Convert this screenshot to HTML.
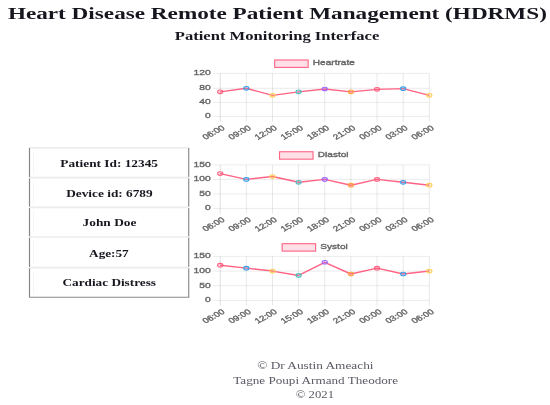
<!DOCTYPE html>
<html><head><meta charset="utf-8"><title>HDRMS</title>
<style>html,body{margin:0;padding:0;background:#fff;overflow:hidden}svg{display:block}</style></head>
<body><svg width="550" height="405" viewBox="0 0 550 405">
<text x="7.9" y="19.4" font-family="Liberation Serif, Times New Roman, serif" font-size="17.5" font-weight="bold" fill="#16161f" textLength="539" lengthAdjust="spacingAndGlyphs" text-anchor="start">Heart Disease Remote Patient Management (HDRMS)</text>
<text x="174.8" y="40.1" font-family="Liberation Serif, Times New Roman, serif" font-size="13.5" font-weight="bold" fill="#16161f" textLength="204.5" lengthAdjust="spacingAndGlyphs" text-anchor="start">Patient Monitoring Interface</text>
<line x1="29.5" y1="147.9" x2="188.7" y2="147.9" stroke="#e6e6e6" stroke-width="1.3"/>
<line x1="29.5" y1="147.9" x2="29.5" y2="177.1" stroke="#858585" stroke-width="1.15"/>
<line x1="188.7" y1="147.9" x2="188.7" y2="177.1" stroke="#8e8e8e" stroke-width="1.2"/>
<line x1="33.5" y1="150.9" x2="33.5" y2="174.1" stroke="#f3f3f3" stroke-width="0.8"/>
<line x1="29.5" y1="178.29999999999998" x2="29.5" y2="206.70000000000002" stroke="#858585" stroke-width="1.15"/>
<line x1="188.7" y1="178.29999999999998" x2="188.7" y2="206.70000000000002" stroke="#8e8e8e" stroke-width="1.2"/>
<line x1="33.5" y1="181.29999999999998" x2="33.5" y2="203.70000000000002" stroke="#f3f3f3" stroke-width="0.8"/>
<line x1="29.5" y1="207.9" x2="29.5" y2="236.4" stroke="#858585" stroke-width="1.15"/>
<line x1="188.7" y1="207.9" x2="188.7" y2="236.4" stroke="#8e8e8e" stroke-width="1.2"/>
<line x1="33.5" y1="210.9" x2="33.5" y2="233.4" stroke="#f3f3f3" stroke-width="0.8"/>
<line x1="29.5" y1="237.6" x2="29.5" y2="267.0" stroke="#858585" stroke-width="1.15"/>
<line x1="188.7" y1="237.6" x2="188.7" y2="267.0" stroke="#8e8e8e" stroke-width="1.2"/>
<line x1="33.5" y1="240.6" x2="33.5" y2="264.0" stroke="#f3f3f3" stroke-width="0.8"/>
<line x1="29.5" y1="268.20000000000005" x2="29.5" y2="297.2" stroke="#858585" stroke-width="1.15"/>
<line x1="188.7" y1="268.20000000000005" x2="188.7" y2="297.2" stroke="#8e8e8e" stroke-width="1.2"/>
<line x1="33.5" y1="271.20000000000005" x2="33.5" y2="294.2" stroke="#f3f3f3" stroke-width="0.8"/>
<line x1="29.0" y1="297.2" x2="189.29999999999998" y2="297.2" stroke="#8a8a8a" stroke-width="1.1"/>
<line x1="29.9" y1="177.7" x2="188.29999999999998" y2="177.7" stroke="#ececec" stroke-width="1.7"/>
<line x1="29.9" y1="207.3" x2="188.29999999999998" y2="207.3" stroke="#ececec" stroke-width="1.7"/>
<line x1="29.9" y1="237.0" x2="188.29999999999998" y2="237.0" stroke="#ececec" stroke-width="1.7"/>
<line x1="29.9" y1="267.6" x2="188.29999999999998" y2="267.6" stroke="#ececec" stroke-width="1.7"/>
<text x="60.3" y="167.0" font-family="Liberation Serif, Times New Roman, serif" font-size="11.4" font-weight="bold" fill="#16161f" textLength="97.7" lengthAdjust="spacingAndGlyphs" text-anchor="start">Patient Id: 12345</text>
<text x="66.2" y="196.5" font-family="Liberation Serif, Times New Roman, serif" font-size="11.4" font-weight="bold" fill="#16161f" textLength="86.5" lengthAdjust="spacingAndGlyphs" text-anchor="start">Device id: 6789</text>
<text x="82.60000000000001" y="226.4" font-family="Liberation Serif, Times New Roman, serif" font-size="11.4" font-weight="bold" fill="#16161f" textLength="53.8" lengthAdjust="spacingAndGlyphs" text-anchor="start">John Doe</text>
<text x="89.10000000000001" y="256.7" font-family="Liberation Serif, Times New Roman, serif" font-size="11.4" font-weight="bold" fill="#16161f" textLength="39.6" lengthAdjust="spacingAndGlyphs" text-anchor="start">Age:57</text>
<text x="62.5" y="285.7" font-family="Liberation Serif, Times New Roman, serif" font-size="11.4" font-weight="bold" fill="#16161f" textLength="93.5" lengthAdjust="spacingAndGlyphs" text-anchor="start">Cardiac Distress</text>
<line x1="213" y1="116.40" x2="429.32" y2="116.40" stroke="#000" stroke-opacity="0.09" stroke-width="0.9"/>
<text transform="translate(210.8 118.20) scale(0.86 0.64)" text-anchor="end" font-family="Liberation Sans, Arial, sans-serif" font-size="12" fill="#666" stroke="#666" stroke-width="0.55">0</text>
<line x1="213" y1="102.40" x2="429.32" y2="102.40" stroke="#000" stroke-opacity="0.09" stroke-width="0.9"/>
<text transform="translate(210.8 104.20) scale(0.86 0.64)" text-anchor="end" font-family="Liberation Sans, Arial, sans-serif" font-size="12" fill="#666" stroke="#666" stroke-width="0.55">40</text>
<line x1="213" y1="88.30" x2="429.32" y2="88.30" stroke="#000" stroke-opacity="0.09" stroke-width="0.9"/>
<text transform="translate(210.8 90.10) scale(0.86 0.64)" text-anchor="end" font-family="Liberation Sans, Arial, sans-serif" font-size="12" fill="#666" stroke="#666" stroke-width="0.55">80</text>
<line x1="213" y1="73.40" x2="429.32" y2="73.40" stroke="#000" stroke-opacity="0.09" stroke-width="0.9"/>
<text transform="translate(210.8 75.20) scale(0.86 0.64)" text-anchor="end" font-family="Liberation Sans, Arial, sans-serif" font-size="12" fill="#666" stroke="#666" stroke-width="0.55">120</text>
<line x1="220.20" y1="73.40" x2="220.20" y2="121.80" stroke="#000" stroke-opacity="0.14" stroke-width="0.9"/>
<line x1="246.34" y1="73.40" x2="246.34" y2="121.80" stroke="#000" stroke-opacity="0.1" stroke-width="0.9"/>
<line x1="272.48" y1="73.40" x2="272.48" y2="121.80" stroke="#000" stroke-opacity="0.1" stroke-width="0.9"/>
<line x1="298.62" y1="73.40" x2="298.62" y2="121.80" stroke="#000" stroke-opacity="0.1" stroke-width="0.9"/>
<line x1="324.76" y1="73.40" x2="324.76" y2="121.80" stroke="#000" stroke-opacity="0.1" stroke-width="0.9"/>
<line x1="350.90" y1="73.40" x2="350.90" y2="121.80" stroke="#000" stroke-opacity="0.1" stroke-width="0.9"/>
<line x1="377.04" y1="73.40" x2="377.04" y2="121.80" stroke="#000" stroke-opacity="0.1" stroke-width="0.9"/>
<line x1="403.18" y1="73.40" x2="403.18" y2="121.80" stroke="#000" stroke-opacity="0.1" stroke-width="0.9"/>
<line x1="429.32" y1="73.40" x2="429.32" y2="121.80" stroke="#000" stroke-opacity="0.1" stroke-width="0.9"/>
<polyline points="220.20,91.83 246.34,88.30 272.48,95.35 298.62,91.83 324.76,89.00 350.90,91.83 377.04,89.36 403.18,88.65 429.32,95.35" fill="none" stroke="rgb(255,99,132)" stroke-width="1.4" stroke-linejoin="round"/>
<ellipse cx="220.20" cy="91.83" rx="2.6" ry="1.8" fill="rgba(255,99,132,0.2)" stroke="rgb(255,99,132)" stroke-width="1.1"/>
<ellipse cx="246.34" cy="88.30" rx="2.6" ry="1.8" fill="rgba(54,162,235,0.2)" stroke="rgb(54,162,235)" stroke-width="1.1"/>
<ellipse cx="272.48" cy="95.35" rx="2.6" ry="1.8" fill="rgba(255,206,86,0.2)" stroke="rgb(255,206,86)" stroke-width="1.1"/>
<ellipse cx="298.62" cy="91.83" rx="2.6" ry="1.8" fill="rgba(75,192,192,0.2)" stroke="rgb(75,192,192)" stroke-width="1.1"/>
<ellipse cx="324.76" cy="89.00" rx="2.6" ry="1.8" fill="rgba(153,102,255,0.2)" stroke="rgb(153,102,255)" stroke-width="1.1"/>
<ellipse cx="350.90" cy="91.83" rx="2.6" ry="1.8" fill="rgba(255,159,64,0.2)" stroke="rgb(255,159,64)" stroke-width="1.1"/>
<ellipse cx="377.04" cy="89.36" rx="2.6" ry="1.8" fill="rgba(255,99,132,0.2)" stroke="rgb(255,99,132)" stroke-width="1.1"/>
<ellipse cx="403.18" cy="88.65" rx="2.6" ry="1.8" fill="rgba(54,162,235,0.2)" stroke="rgb(54,162,235)" stroke-width="1.1"/>
<ellipse cx="429.32" cy="95.35" rx="2.6" ry="1.8" fill="rgba(255,206,86,0.2)" stroke="rgb(255,206,86)" stroke-width="1.1"/>
<text transform="translate(223.50 126.90) scale(0.83 0.62) rotate(-36)" text-anchor="end" dy="0.35em" font-family="Liberation Sans, Arial, sans-serif" font-size="12" fill="#666" stroke="#666" stroke-width="0.55">06:00</text>
<text transform="translate(249.64 126.90) scale(0.83 0.62) rotate(-36)" text-anchor="end" dy="0.35em" font-family="Liberation Sans, Arial, sans-serif" font-size="12" fill="#666" stroke="#666" stroke-width="0.55">09:00</text>
<text transform="translate(275.78 126.90) scale(0.83 0.62) rotate(-36)" text-anchor="end" dy="0.35em" font-family="Liberation Sans, Arial, sans-serif" font-size="12" fill="#666" stroke="#666" stroke-width="0.55">12:00</text>
<text transform="translate(301.92 126.90) scale(0.83 0.62) rotate(-36)" text-anchor="end" dy="0.35em" font-family="Liberation Sans, Arial, sans-serif" font-size="12" fill="#666" stroke="#666" stroke-width="0.55">15:00</text>
<text transform="translate(328.06 126.90) scale(0.83 0.62) rotate(-36)" text-anchor="end" dy="0.35em" font-family="Liberation Sans, Arial, sans-serif" font-size="12" fill="#666" stroke="#666" stroke-width="0.55">18:00</text>
<text transform="translate(354.20 126.90) scale(0.83 0.62) rotate(-36)" text-anchor="end" dy="0.35em" font-family="Liberation Sans, Arial, sans-serif" font-size="12" fill="#666" stroke="#666" stroke-width="0.55">21:00</text>
<text transform="translate(380.34 126.90) scale(0.83 0.62) rotate(-36)" text-anchor="end" dy="0.35em" font-family="Liberation Sans, Arial, sans-serif" font-size="12" fill="#666" stroke="#666" stroke-width="0.55">00:00</text>
<text transform="translate(406.48 126.90) scale(0.83 0.62) rotate(-36)" text-anchor="end" dy="0.35em" font-family="Liberation Sans, Arial, sans-serif" font-size="12" fill="#666" stroke="#666" stroke-width="0.55">03:00</text>
<text transform="translate(432.62 126.90) scale(0.83 0.62) rotate(-36)" text-anchor="end" dy="0.35em" font-family="Liberation Sans, Arial, sans-serif" font-size="12" fill="#666" stroke="#666" stroke-width="0.55">06:00</text>
<rect x="274.65" y="60.00" width="33.5" height="7.4" fill="rgba(255,99,132,0.2)" stroke="rgb(255,99,132)" stroke-width="1.1"/>
<text transform="translate(312.80 65.35) scale(0.84 0.67)" font-family="Liberation Sans, Arial, sans-serif" font-size="12" fill="#666" stroke="#666" stroke-width="0.55">Heartrate</text>
<line x1="213" y1="208.40" x2="429.32" y2="208.40" stroke="#000" stroke-opacity="0.09" stroke-width="0.9"/>
<text transform="translate(210.8 210.20) scale(0.86 0.64)" text-anchor="end" font-family="Liberation Sans, Arial, sans-serif" font-size="12" fill="#666" stroke="#666" stroke-width="0.55">0</text>
<line x1="213" y1="193.90" x2="429.32" y2="193.90" stroke="#000" stroke-opacity="0.09" stroke-width="0.9"/>
<text transform="translate(210.8 195.70) scale(0.86 0.64)" text-anchor="end" font-family="Liberation Sans, Arial, sans-serif" font-size="12" fill="#666" stroke="#666" stroke-width="0.55">50</text>
<line x1="213" y1="179.40" x2="429.32" y2="179.40" stroke="#000" stroke-opacity="0.09" stroke-width="0.9"/>
<text transform="translate(210.8 181.20) scale(0.86 0.64)" text-anchor="end" font-family="Liberation Sans, Arial, sans-serif" font-size="12" fill="#666" stroke="#666" stroke-width="0.55">100</text>
<line x1="213" y1="164.90" x2="429.32" y2="164.90" stroke="#000" stroke-opacity="0.09" stroke-width="0.9"/>
<text transform="translate(210.8 166.70) scale(0.86 0.64)" text-anchor="end" font-family="Liberation Sans, Arial, sans-serif" font-size="12" fill="#666" stroke="#666" stroke-width="0.55">150</text>
<line x1="220.20" y1="164.90" x2="220.20" y2="213.70" stroke="#000" stroke-opacity="0.14" stroke-width="0.9"/>
<line x1="246.34" y1="164.90" x2="246.34" y2="213.70" stroke="#000" stroke-opacity="0.1" stroke-width="0.9"/>
<line x1="272.48" y1="164.90" x2="272.48" y2="213.70" stroke="#000" stroke-opacity="0.1" stroke-width="0.9"/>
<line x1="298.62" y1="164.90" x2="298.62" y2="213.70" stroke="#000" stroke-opacity="0.1" stroke-width="0.9"/>
<line x1="324.76" y1="164.90" x2="324.76" y2="213.70" stroke="#000" stroke-opacity="0.1" stroke-width="0.9"/>
<line x1="350.90" y1="164.90" x2="350.90" y2="213.70" stroke="#000" stroke-opacity="0.1" stroke-width="0.9"/>
<line x1="377.04" y1="164.90" x2="377.04" y2="213.70" stroke="#000" stroke-opacity="0.1" stroke-width="0.9"/>
<line x1="403.18" y1="164.90" x2="403.18" y2="213.70" stroke="#000" stroke-opacity="0.1" stroke-width="0.9"/>
<line x1="429.32" y1="164.90" x2="429.32" y2="213.70" stroke="#000" stroke-opacity="0.1" stroke-width="0.9"/>
<polyline points="220.20,173.60 246.34,179.40 272.48,176.50 298.62,182.30 324.76,179.40 350.90,185.20 377.04,179.40 403.18,182.30 429.32,185.20" fill="none" stroke="rgb(255,99,132)" stroke-width="1.4" stroke-linejoin="round"/>
<ellipse cx="220.20" cy="173.60" rx="2.6" ry="1.8" fill="rgba(255,99,132,0.2)" stroke="rgb(255,99,132)" stroke-width="1.1"/>
<ellipse cx="246.34" cy="179.40" rx="2.6" ry="1.8" fill="rgba(54,162,235,0.2)" stroke="rgb(54,162,235)" stroke-width="1.1"/>
<ellipse cx="272.48" cy="176.50" rx="2.6" ry="1.8" fill="rgba(255,206,86,0.2)" stroke="rgb(255,206,86)" stroke-width="1.1"/>
<ellipse cx="298.62" cy="182.30" rx="2.6" ry="1.8" fill="rgba(75,192,192,0.2)" stroke="rgb(75,192,192)" stroke-width="1.1"/>
<ellipse cx="324.76" cy="179.40" rx="2.6" ry="1.8" fill="rgba(153,102,255,0.2)" stroke="rgb(153,102,255)" stroke-width="1.1"/>
<ellipse cx="350.90" cy="185.20" rx="2.6" ry="1.8" fill="rgba(255,159,64,0.2)" stroke="rgb(255,159,64)" stroke-width="1.1"/>
<ellipse cx="377.04" cy="179.40" rx="2.6" ry="1.8" fill="rgba(255,99,132,0.2)" stroke="rgb(255,99,132)" stroke-width="1.1"/>
<ellipse cx="403.18" cy="182.30" rx="2.6" ry="1.8" fill="rgba(54,162,235,0.2)" stroke="rgb(54,162,235)" stroke-width="1.1"/>
<ellipse cx="429.32" cy="185.20" rx="2.6" ry="1.8" fill="rgba(255,206,86,0.2)" stroke="rgb(255,206,86)" stroke-width="1.1"/>
<text transform="translate(223.50 218.80) scale(0.83 0.62) rotate(-36)" text-anchor="end" dy="0.35em" font-family="Liberation Sans, Arial, sans-serif" font-size="12" fill="#666" stroke="#666" stroke-width="0.55">06:00</text>
<text transform="translate(249.64 218.80) scale(0.83 0.62) rotate(-36)" text-anchor="end" dy="0.35em" font-family="Liberation Sans, Arial, sans-serif" font-size="12" fill="#666" stroke="#666" stroke-width="0.55">09:00</text>
<text transform="translate(275.78 218.80) scale(0.83 0.62) rotate(-36)" text-anchor="end" dy="0.35em" font-family="Liberation Sans, Arial, sans-serif" font-size="12" fill="#666" stroke="#666" stroke-width="0.55">12:00</text>
<text transform="translate(301.92 218.80) scale(0.83 0.62) rotate(-36)" text-anchor="end" dy="0.35em" font-family="Liberation Sans, Arial, sans-serif" font-size="12" fill="#666" stroke="#666" stroke-width="0.55">15:00</text>
<text transform="translate(328.06 218.80) scale(0.83 0.62) rotate(-36)" text-anchor="end" dy="0.35em" font-family="Liberation Sans, Arial, sans-serif" font-size="12" fill="#666" stroke="#666" stroke-width="0.55">18:00</text>
<text transform="translate(354.20 218.80) scale(0.83 0.62) rotate(-36)" text-anchor="end" dy="0.35em" font-family="Liberation Sans, Arial, sans-serif" font-size="12" fill="#666" stroke="#666" stroke-width="0.55">21:00</text>
<text transform="translate(380.34 218.80) scale(0.83 0.62) rotate(-36)" text-anchor="end" dy="0.35em" font-family="Liberation Sans, Arial, sans-serif" font-size="12" fill="#666" stroke="#666" stroke-width="0.55">00:00</text>
<text transform="translate(406.48 218.80) scale(0.83 0.62) rotate(-36)" text-anchor="end" dy="0.35em" font-family="Liberation Sans, Arial, sans-serif" font-size="12" fill="#666" stroke="#666" stroke-width="0.55">03:00</text>
<text transform="translate(432.62 218.80) scale(0.83 0.62) rotate(-36)" text-anchor="end" dy="0.35em" font-family="Liberation Sans, Arial, sans-serif" font-size="12" fill="#666" stroke="#666" stroke-width="0.55">06:00</text>
<rect x="279.55" y="151.75" width="33.5" height="7.4" fill="rgba(255,99,132,0.2)" stroke="rgb(255,99,132)" stroke-width="1.1"/>
<text transform="translate(317.80 157.10) scale(0.84 0.67)" font-family="Liberation Sans, Arial, sans-serif" font-size="12" fill="#666" stroke="#666" stroke-width="0.55">Diastol</text>
<line x1="213" y1="300.40" x2="429.32" y2="300.40" stroke="#000" stroke-opacity="0.09" stroke-width="0.9"/>
<text transform="translate(210.8 302.20) scale(0.86 0.64)" text-anchor="end" font-family="Liberation Sans, Arial, sans-serif" font-size="12" fill="#666" stroke="#666" stroke-width="0.55">0</text>
<line x1="213" y1="285.73" x2="429.32" y2="285.73" stroke="#000" stroke-opacity="0.09" stroke-width="0.9"/>
<text transform="translate(210.8 287.53) scale(0.86 0.64)" text-anchor="end" font-family="Liberation Sans, Arial, sans-serif" font-size="12" fill="#666" stroke="#666" stroke-width="0.55">50</text>
<line x1="213" y1="271.07" x2="429.32" y2="271.07" stroke="#000" stroke-opacity="0.09" stroke-width="0.9"/>
<text transform="translate(210.8 272.87) scale(0.86 0.64)" text-anchor="end" font-family="Liberation Sans, Arial, sans-serif" font-size="12" fill="#666" stroke="#666" stroke-width="0.55">100</text>
<line x1="213" y1="256.40" x2="429.32" y2="256.40" stroke="#000" stroke-opacity="0.09" stroke-width="0.9"/>
<text transform="translate(210.8 258.20) scale(0.86 0.64)" text-anchor="end" font-family="Liberation Sans, Arial, sans-serif" font-size="12" fill="#666" stroke="#666" stroke-width="0.55">150</text>
<line x1="220.20" y1="256.40" x2="220.20" y2="305.70" stroke="#000" stroke-opacity="0.14" stroke-width="0.9"/>
<line x1="246.34" y1="256.40" x2="246.34" y2="305.70" stroke="#000" stroke-opacity="0.1" stroke-width="0.9"/>
<line x1="272.48" y1="256.40" x2="272.48" y2="305.70" stroke="#000" stroke-opacity="0.1" stroke-width="0.9"/>
<line x1="298.62" y1="256.40" x2="298.62" y2="305.70" stroke="#000" stroke-opacity="0.1" stroke-width="0.9"/>
<line x1="324.76" y1="256.40" x2="324.76" y2="305.70" stroke="#000" stroke-opacity="0.1" stroke-width="0.9"/>
<line x1="350.90" y1="256.40" x2="350.90" y2="305.70" stroke="#000" stroke-opacity="0.1" stroke-width="0.9"/>
<line x1="377.04" y1="256.40" x2="377.04" y2="305.70" stroke="#000" stroke-opacity="0.1" stroke-width="0.9"/>
<line x1="403.18" y1="256.40" x2="403.18" y2="305.70" stroke="#000" stroke-opacity="0.1" stroke-width="0.9"/>
<line x1="429.32" y1="256.40" x2="429.32" y2="305.70" stroke="#000" stroke-opacity="0.1" stroke-width="0.9"/>
<polyline points="220.20,265.20 246.34,268.13 272.48,271.07 298.62,275.47 324.76,262.27 350.90,274.00 377.04,268.13 403.18,274.00 429.32,271.07" fill="none" stroke="rgb(255,99,132)" stroke-width="1.4" stroke-linejoin="round"/>
<ellipse cx="220.20" cy="265.20" rx="2.6" ry="1.8" fill="rgba(255,99,132,0.2)" stroke="rgb(255,99,132)" stroke-width="1.1"/>
<ellipse cx="246.34" cy="268.13" rx="2.6" ry="1.8" fill="rgba(54,162,235,0.2)" stroke="rgb(54,162,235)" stroke-width="1.1"/>
<ellipse cx="272.48" cy="271.07" rx="2.6" ry="1.8" fill="rgba(255,206,86,0.2)" stroke="rgb(255,206,86)" stroke-width="1.1"/>
<ellipse cx="298.62" cy="275.47" rx="2.6" ry="1.8" fill="rgba(75,192,192,0.2)" stroke="rgb(75,192,192)" stroke-width="1.1"/>
<ellipse cx="324.76" cy="262.27" rx="2.6" ry="1.8" fill="rgba(153,102,255,0.2)" stroke="rgb(153,102,255)" stroke-width="1.1"/>
<ellipse cx="350.90" cy="274.00" rx="2.6" ry="1.8" fill="rgba(255,159,64,0.2)" stroke="rgb(255,159,64)" stroke-width="1.1"/>
<ellipse cx="377.04" cy="268.13" rx="2.6" ry="1.8" fill="rgba(255,99,132,0.2)" stroke="rgb(255,99,132)" stroke-width="1.1"/>
<ellipse cx="403.18" cy="274.00" rx="2.6" ry="1.8" fill="rgba(54,162,235,0.2)" stroke="rgb(54,162,235)" stroke-width="1.1"/>
<ellipse cx="429.32" cy="271.07" rx="2.6" ry="1.8" fill="rgba(255,206,86,0.2)" stroke="rgb(255,206,86)" stroke-width="1.1"/>
<text transform="translate(223.50 310.80) scale(0.83 0.62) rotate(-36)" text-anchor="end" dy="0.35em" font-family="Liberation Sans, Arial, sans-serif" font-size="12" fill="#666" stroke="#666" stroke-width="0.55">06:00</text>
<text transform="translate(249.64 310.80) scale(0.83 0.62) rotate(-36)" text-anchor="end" dy="0.35em" font-family="Liberation Sans, Arial, sans-serif" font-size="12" fill="#666" stroke="#666" stroke-width="0.55">09:00</text>
<text transform="translate(275.78 310.80) scale(0.83 0.62) rotate(-36)" text-anchor="end" dy="0.35em" font-family="Liberation Sans, Arial, sans-serif" font-size="12" fill="#666" stroke="#666" stroke-width="0.55">12:00</text>
<text transform="translate(301.92 310.80) scale(0.83 0.62) rotate(-36)" text-anchor="end" dy="0.35em" font-family="Liberation Sans, Arial, sans-serif" font-size="12" fill="#666" stroke="#666" stroke-width="0.55">15:00</text>
<text transform="translate(328.06 310.80) scale(0.83 0.62) rotate(-36)" text-anchor="end" dy="0.35em" font-family="Liberation Sans, Arial, sans-serif" font-size="12" fill="#666" stroke="#666" stroke-width="0.55">18:00</text>
<text transform="translate(354.20 310.80) scale(0.83 0.62) rotate(-36)" text-anchor="end" dy="0.35em" font-family="Liberation Sans, Arial, sans-serif" font-size="12" fill="#666" stroke="#666" stroke-width="0.55">21:00</text>
<text transform="translate(380.34 310.80) scale(0.83 0.62) rotate(-36)" text-anchor="end" dy="0.35em" font-family="Liberation Sans, Arial, sans-serif" font-size="12" fill="#666" stroke="#666" stroke-width="0.55">00:00</text>
<text transform="translate(406.48 310.80) scale(0.83 0.62) rotate(-36)" text-anchor="end" dy="0.35em" font-family="Liberation Sans, Arial, sans-serif" font-size="12" fill="#666" stroke="#666" stroke-width="0.55">03:00</text>
<text transform="translate(432.62 310.80) scale(0.83 0.62) rotate(-36)" text-anchor="end" dy="0.35em" font-family="Liberation Sans, Arial, sans-serif" font-size="12" fill="#666" stroke="#666" stroke-width="0.55">06:00</text>
<rect x="282.15" y="243.70" width="33.5" height="7.4" fill="rgba(255,99,132,0.2)" stroke="rgb(255,99,132)" stroke-width="1.1"/>
<text transform="translate(320.30 249.05) scale(0.84 0.67)" font-family="Liberation Sans, Arial, sans-serif" font-size="12" fill="#666" stroke="#666" stroke-width="0.55">Systol</text>
<text x="257.2" y="368.6" font-family="Liberation Serif, Times New Roman, serif" font-size="10.3" fill="#5a5a66" textLength="116.4" lengthAdjust="spacingAndGlyphs" text-anchor="start">© Dr Austin Ameachi</text>
<text x="233.2" y="383.7" font-family="Liberation Serif, Times New Roman, serif" font-size="10.4" fill="#5a5a66" textLength="164.9" lengthAdjust="spacingAndGlyphs" text-anchor="start">Tagne Poupi Armand Theodore</text>
<text x="295.8" y="397.7" font-family="Liberation Serif, Times New Roman, serif" font-size="10.3" fill="#5a5a66" textLength="38.2" lengthAdjust="spacingAndGlyphs" text-anchor="start">© 2021</text>
</svg></body></html>
